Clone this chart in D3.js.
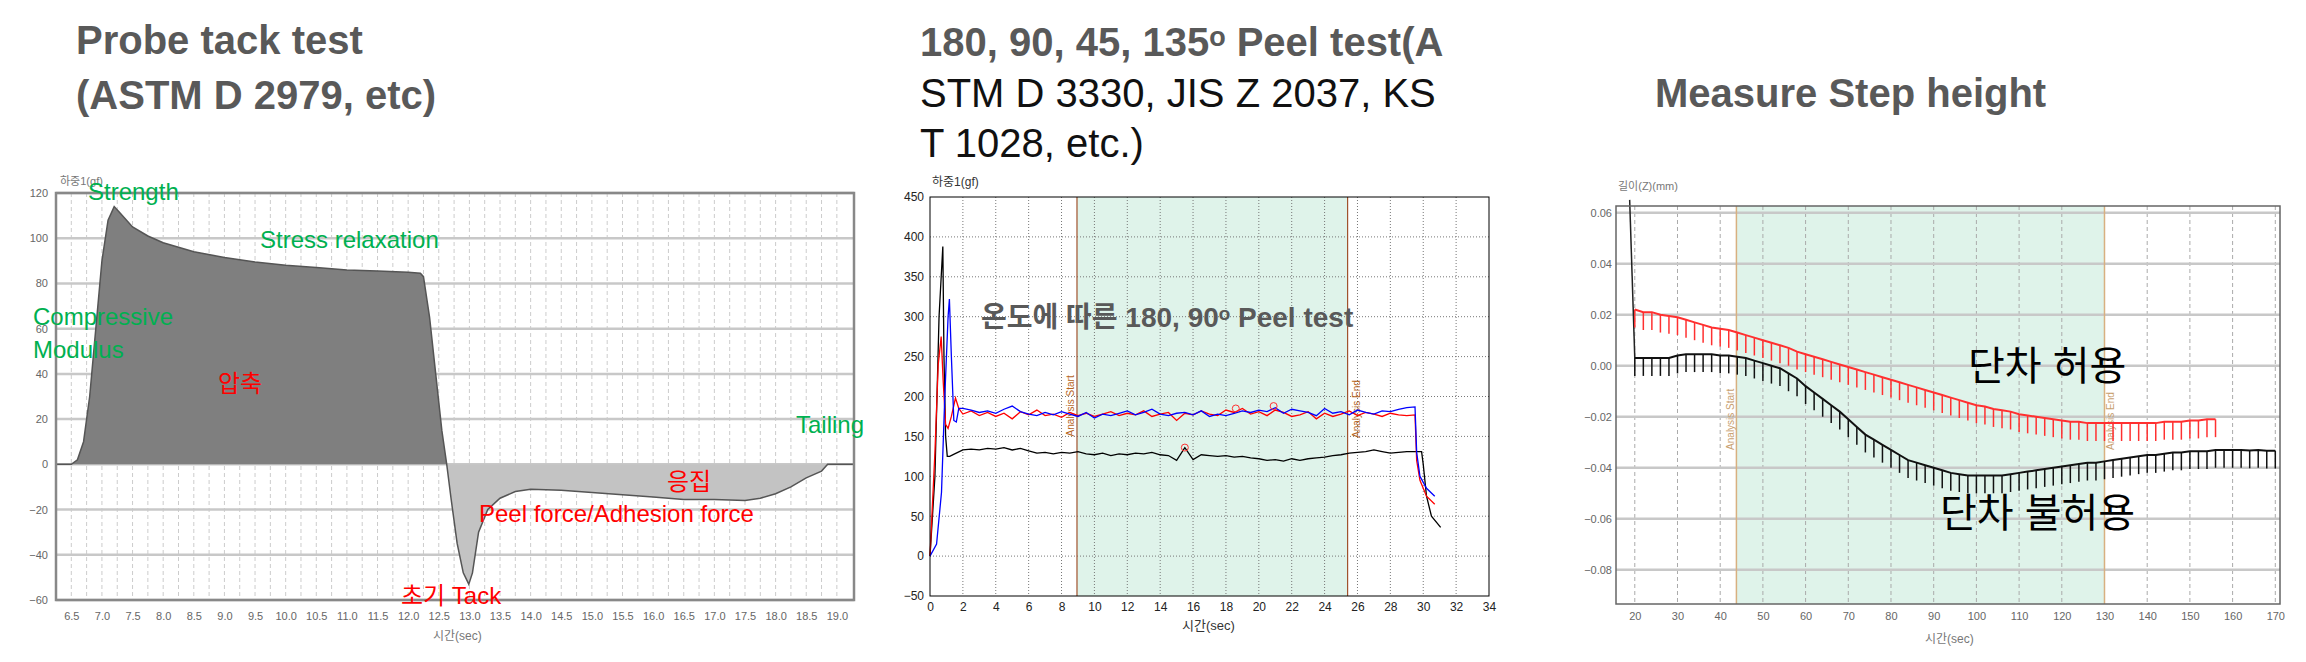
<!DOCTYPE html>
<html><head><meta charset="utf-8">
<script src="https://cdn.jsdelivr.net/npm/d3@7"></script>
<style>body{margin:0;background:#fff}svg text{font-family:"Liberation Sans",Arial,"Noto Sans CJK KR",sans-serif}</style>
</head><body><svg id="c" width="2306" height="662"></svg>
<script>
// ---- chart 1: probe tack ----
const tackTime = [6.25,6.5,6.6,6.7,6.8,6.9,7.0,7.1,7.2,7.3,7.5,7.75,8.0,8.5,9.0,9.5,10,10.5,11,11.5,12.0,12.2,12.25,12.35,12.45,12.55,12.63,12.7,12.8,12.9,12.99,13.05,13.15,13.3,13.5,13.75,14.0,14.5,15,15.5,16,16.5,17,17.5,17.75,18.0,18.25,18.5,18.75,18.85,19.28];
const tackLoad = [0,0,2,10,30,60,90,108,114,111,105,101,98,94,91.5,89.5,88,87,86,85.5,85,84.5,83,65,40,15,0,-15,-35,-48,-53,-48,-30,-20,-15,-12,-11,-11.5,-12.5,-13.5,-14.5,-15.5,-15.5,-16,-15,-13,-10,-6,-3,0,0];
const tackXTicks = d3.range(6.5, 19.01, 0.5);
const tackYTicks = [120,100,80,60,40,20,0,-20,-40,-60];

// ---- chart 2: peel test ----
const redHead = [[0,0],[0.3,130],[0.5,240],[0.68,275],[0.8,220],[0.95,165],[1.1,160],[1.3,175],[1.55,198],[1.75,185]];
const redBody = [178,182,176,180,175,179,172,181,177,183, 176,178,174,180,176,179,175,178,181,176, 179,177,182,175,178,180,170,179,177,182, 178,176,183,180,185,178,181,176,183,180, 175,177,181,172,179,175,178,182,176,180, 178,175,179,177,176,177];
const redTail = [[29.6,120],[29.8,95],[30.2,75],[30.7,65]];
const blueHead = [[0,0],[0.4,15],[0.7,80],[0.9,200],[1.1,300],[1.18,322],[1.3,250],[1.45,170],[1.6,168],[1.75,185]];
const blueBody = [185,183,180,182,179,184,188,181,178,176, 180,177,181,178,175,180,173,178,176,179, 182,177,180,184,178,176,179,180,177,182, 175,178,176,179,182,180,183,181,186,179, 184,182,180,176,185,179,181,177,183,180, 178,182,181,184,186,187];
const blueTail = [[29.6,130],[29.8,100],[30.2,85],[30.7,75]];
const blackHead = [[0,0],[0.3,100],[0.55,300],[0.78,388],[0.85,250],[0.95,150],[1.05,125],[1.2,125]];
const blackBody = [128,133,134,133,135,134,136,133,135,132, 129,130,128,130,129,131,128,127,129,126, 128,127,129,128,130,127,126,120,136,121, 127,126,125,126,124,125,123,122,120,121, 119,122,120,122,123,124,126,127,129,130, 131,133,131,129,130,131,131];
const blackTail = [[29.9,131],[30.0,115],[30.2,75],[30.5,50],[31.06,36]];
const peelMarks = [[18.6,185],[20.9,188],[15.5,136]];
const peelRange = [8.94, 25.4];

// ---- chart 3: step height ----
const redTops = [0.022,0.021,0.021,0.020,0.0195,0.019,0.018,0.017,0.016,0.015,0.0145,0.014,0.013,0.012,0.011,0.010,0.009,0.008,0.007,0.0055,0.0045,0.0035,0.0025,0.0015,0.0005,-0.0005,-0.0015,-0.0025,-0.0035,-0.0045,-0.0055,-0.0065,-0.0075,-0.0085,-0.0095,-0.0105,-0.0115,-0.0125,-0.0135,-0.0145,-0.0155,-0.016,-0.017,-0.0175,-0.018,-0.019,-0.0195,-0.020,-0.0205,-0.021,-0.0215,-0.022,-0.022,-0.0225,-0.0225,-0.0225,-0.0225,-0.0225,-0.0225,-0.0225,-0.0225,-0.0225,-0.022,-0.022,-0.022,-0.0215,-0.0215,-0.021,-0.021];
const blackTops = [0.003,0.003,0.003,0.003,0.003,0.004,0.0045,0.0045,0.0045,0.0045,0.004,0.004,0.0035,0.003,0.002,0.001,0.0,-0.001,-0.003,-0.005,-0.008,-0.0105,-0.013,-0.0155,-0.018,-0.021,-0.024,-0.027,-0.029,-0.031,-0.033,-0.035,-0.037,-0.038,-0.039,-0.040,-0.041,-0.042,-0.0425,-0.043,-0.043,-0.043,-0.043,-0.043,-0.0425,-0.042,-0.0415,-0.041,-0.0405,-0.040,-0.0395,-0.039,-0.0385,-0.038,-0.038,-0.0375,-0.037,-0.0365,-0.036,-0.0355,-0.035,-0.035,-0.0345,-0.034,-0.034,-0.0335,-0.0335,-0.0335,-0.033,-0.033,-0.033,-0.033,-0.0332,-0.033,-0.0333,-0.0333];
const stepStart = 20, stepEvery = 2, spikeDepth = 0.007;
const stepDrop = [[18.8,0.065],[20,0.003]];
const stepRange = [43.8, 130];
const stepXTicks = d3.range(20, 171, 10);
const stepYTicks = [0.06,0.04,0.02,0.00,-0.02,-0.04,-0.06,-0.08];

const svg = d3.select("#c");
const grey = "#595959";

// titles
function title(x, lines) {
  lines.forEach(([t, y, bold]) => svg.append("text").attr("x", x).attr("y", y)
    .attr("font-size", 40).attr("font-weight", bold ? "bold" : "normal")
    .attr("fill", bold ? grey : "#111").text(t));
}
title(76, [["Probe tack test", 54, 1], ["(ASTM D 2979, etc)", 109, 1]]);
title(920, [["180, 90, 45, 135\u1d52 Peel test(A", 56, 1], ["STM D 3330, JIS Z 2037, KS", 107, 0], ["T 1028, etc.)", 157, 0]]);
title(1655, [["Measure Step height", 107, 1]]);

function label(x, y, t, col, size, weight) {
  svg.append("text").attr("x", x).attr("y", y).attr("fill", col).attr("font-size", size)
    .attr("font-weight", weight || "normal").text(t);
}

// ================= chart 1
{
  const x = d3.scaleLinear().domain([6.25, 19.28]).range([56, 854]);
  const y = d3.scaleLinear().domain([-60, 120]).range([600, 193]);
  const g = svg.append("g");
  g.selectAll(".vg").data(d3.range(6.5, 19.1, 0.25)).join("line")
    .attr("x1", d => x(d)).attr("x2", d => x(d)).attr("y1", y(120)).attr("y2", y(-60))
    .attr("stroke", "#ccc").attr("stroke-dasharray", "4,3");
  g.selectAll(".hg").data(tackYTicks).join("line")
    .attr("x1", 56).attr("x2", 854).attr("y1", d => y(d)).attr("y2", d => y(d))
    .attr("stroke", "#c8c8c8").attr("stroke-width", 2.5);
  const pts = tackTime.map((t, i) => [t, tackLoad[i]]);
  const area = d3.area().x(d => x(d[0])).y0(y(0)).y1(d => y(d[1]));
  g.append("path").attr("d", area(pts.filter(d => d[0] <= 12.63))).attr("fill", "#7f7f7f");
  g.append("path").attr("d", area(pts.filter(d => d[0] >= 12.63))).attr("fill", "#c3c3c3");
  g.append("path").attr("d", d3.line().x(d => x(d[0])).y(d => y(d[1]))(pts))
    .attr("fill", "none").attr("stroke", "#555").attr("stroke-width", 1.5);
  g.append("rect").attr("x", 56).attr("y", y(120)).attr("width", 798).attr("height", y(-60) - y(120))
    .attr("fill", "none").attr("stroke", "#888").attr("stroke-width", 2.5);
  const ya = g.append("g").attr("transform", "translate(56,0)")
    .call(d3.axisLeft(y).tickValues(tackYTicks).tickSize(0).tickPadding(8));
  const xa = g.append("g").attr("transform", `translate(0,${y(-60) + 4})`)
    .call(d3.axisBottom(x).tickValues(tackXTicks).tickSize(0).tickPadding(8).tickFormat(d3.format(".1f")));
  [ya, xa].forEach(a => { a.select(".domain").remove(); a.selectAll("text").attr("fill", "#666").attr("font-size", 11); });
  label(60, 185, "하중1(gf)", "#777", 11);
  label(433, 640, "시간(sec)", "#777", 12);
  const green = "#00b050", red = "#ff0000";
  label(88, 200, "Strength", green, 24);
  label(260, 248, "Stress relaxation", green, 24);
  label(33, 325, "Compressive", green, 24);
  label(33, 358, "Modulus", green, 24);
  label(218, 392, "압축", red, 24);
  label(796, 433, "Tailing", green, 24);
  label(667, 490, "응집", red, 24);
  label(479, 522, "Peel force/Adhesion force", red, 24);
  label(401, 604, "초기 Tack", red, 24);
}

// ================= chart 2
{
  const x = d3.scaleLinear().domain([0, 34]).range([930, 1489]);
  const y = d3.scaleLinear().domain([-50, 450]).range([596, 197]);
  const g = svg.append("g");
  g.append("rect").attr("x", x(peelRange[0])).attr("y", y(450)).attr("width", x(peelRange[1]) - x(peelRange[0]))
    .attr("height", y(-50) - y(450)).attr("fill", "#dff3ea");
  g.selectAll(".vg").data(d3.range(2, 34, 2)).join("line")
    .attr("x1", d => x(d)).attr("x2", d => x(d)).attr("y1", y(450)).attr("y2", y(-50))
    .attr("stroke", "#777").attr("stroke-dasharray", "1,2");
  g.selectAll(".hg").data(d3.range(0, 450, 50)).join("line")
    .attr("x1", x(0)).attr("x2", x(34)).attr("y1", d => y(d)).attr("y2", d => y(d))
    .attr("stroke", "#777").attr("stroke-dasharray", "1,2");
  peelRange.forEach((r, i) => {
    g.append("line").attr("x1", x(r)).attr("x2", x(r)).attr("y1", y(450)).attr("y2", y(-50))
      .attr("stroke", "#a0522d").attr("stroke-width", 1.2);
    const lx = i ? x(r) + 12 : x(r) - 3;
    g.append("text").attr("transform", `translate(${lx},${y(i ? 148 : 150)}) rotate(-90)`)
      .attr("fill", "#b5651d").attr("font-size", 10).text(i ? "Analysis End" : "Analysis Start");
  });
  const line = d3.line().x(d => x(d[0])).y(d => y(d[1]));
  const build = (head, body, t0, tail) => head.concat(body.map((v, i) => [t0 + i * 0.5, v]), tail);
  [[build(blackHead, blackBody, 1.5, blackTail), "#000"],
   [build(redHead, redBody, 2, redTail), "#ff0000"],
   [build(blueHead, blueBody, 2, blueTail), "#0000ff"]].forEach(([d, c]) =>
    g.append("path").attr("d", line(d)).attr("fill", "none").attr("stroke", c).attr("stroke-width", 1.3));
  g.selectAll(".mk").data(peelMarks).join("circle").attr("cx", d => x(d[0])).attr("cy", d => y(d[1]))
    .attr("r", 3.5).attr("fill", "none").attr("stroke", "#ff3030").attr("stroke-width", 1);
  g.append("rect").attr("x", x(0)).attr("y", y(450)).attr("width", x(34) - x(0)).attr("height", y(-50) - y(450))
    .attr("fill", "none").attr("stroke", "#000");
  const ya = g.append("g").attr("transform", `translate(${x(0)},0)`)
    .call(d3.axisLeft(y).tickValues(d3.range(-50, 451, 50)).tickSize(0).tickPadding(6));
  const xa = g.append("g").attr("transform", `translate(0,${y(-50)})`)
    .call(d3.axisBottom(x).tickValues(d3.range(0, 35, 2)).tickSize(0).tickPadding(6));
  [ya, xa].forEach(a => { a.select(".domain").remove(); a.selectAll("text").attr("fill", "#222").attr("font-size", 12); });
  label(932, 186, "하중1(gf)", "#333", 12);
  label(1182, 630, "시간(sec)", "#333", 13);
  label(981, 327, "온도에 따른 180, 90\u1d52 Peel test", grey, 28, "bold");
}

// ================= chart 3
{
  const x = d3.scaleLinear().domain([15.6, 171.1]).range([1616, 2280]);
  const y = d3.scaleLinear().domain([-0.0934, 0.0626]).range([604, 206]);
  const g = svg.append("g");
  g.append("rect").attr("x", x(stepRange[0])).attr("y", 206).attr("width", x(stepRange[1]) - x(stepRange[0]))
    .attr("height", 398).attr("fill", "#dff3ea");
  g.selectAll(".vg").data(stepXTicks).join("line")
    .attr("x1", d => x(d)).attr("x2", d => x(d)).attr("y1", 206).attr("y2", 604)
    .attr("stroke", "#aaa").attr("stroke-dasharray", "4,3");
  g.selectAll(".hg").data(stepYTicks).join("line")
    .attr("x1", 1616).attr("x2", 2280).attr("y1", d => y(d)).attr("y2", d => y(d))
    .attr("stroke", "#c8c8c8").attr("stroke-width", 2.5);
  stepRange.forEach((r, i) => {
    g.append("line").attr("x1", x(r)).attr("x2", x(r)).attr("y1", 206).attr("y2", 604)
      .attr("stroke", "#d8b080").attr("stroke-width", 1.5);
    const lx = i ? x(r) + 10 : x(r) - 2;
    g.append("text").attr("transform", `translate(${lx},${y(-0.033)}) rotate(-90)`)
      .attr("fill", "#c8a070").attr("font-size", 10).text(i ? "Analysis End" : "Analysis Start");
  });
  const line = d3.line().x(d => x(d[0])).y(d => y(d[1]));
  g.append("path").attr("d", line(stepDrop)).attr("fill", "none").attr("stroke", "#222").attr("stroke-width", 1.5);
  [[redTops, "#ff3030"], [blackTops, "#111"]].forEach(([tops, c]) => {
    const pts = tops.map((v, i) => [stepStart + i * stepEvery, v]);
    const sg = g.append("g");
    sg.append("path").attr("d", line(pts)).attr("fill", "none").attr("stroke", c).attr("stroke-width", 2);
    sg.selectAll("line").data(pts).join("line")
      .attr("x1", d => x(d[0])).attr("x2", d => x(d[0]))
      .attr("y1", d => y(d[1])).attr("y2", d => y(d[1] - spikeDepth))
      .attr("stroke", c).attr("stroke-width", 1.5);
  });
  g.append("rect").attr("x", 1616).attr("y", 206).attr("width", 664).attr("height", 398)
    .attr("fill", "none").attr("stroke", "#666").attr("stroke-width", 1.5);
  const ya = g.append("g").attr("transform", "translate(1616,0)")
    .call(d3.axisLeft(y).tickValues(stepYTicks).tickSize(0).tickPadding(4).tickFormat(d3.format(".2f")));
  const xa = g.append("g").attr("transform", "translate(0,604)")
    .call(d3.axisBottom(x).tickValues(stepXTicks).tickSize(0).tickPadding(8));
  [ya, xa].forEach(a => { a.select(".domain").remove(); a.selectAll("text").attr("fill", "#666").attr("font-size", 11); });
  label(1618, 190, "길이(Z)(mm)", "#777", 11);
  label(1925, 643, "시간(sec)", "#777", 12);
  label(1968, 380, "단차 허용", "#000", 40);
  label(1940, 527, "단차 불허용", "#000", 40);
}
</script></body></html>
